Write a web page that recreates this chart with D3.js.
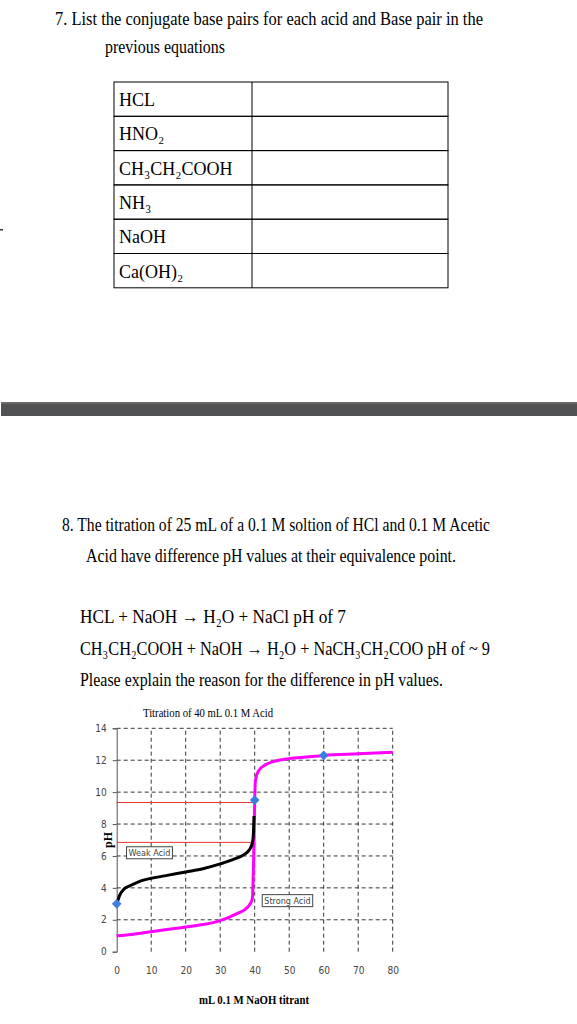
<!DOCTYPE html><html><head><meta charset="utf-8">
<script src="https://cdn.jsdelivr.net/npm/d3@7"></script>
<style>body{margin:0;background:#fff}svg{display:block}</style></head><body>
<script>
const tableRows=["HCL","HNO₂","CH₃CH₂COOH","NH₃","NaOH","Ca(OH)₂"];
const weakX=[0,1,2,4,6,8,10,15,20,25,30,34,37,38.5,39.3,39.6,39.8];
const weakY=[3,3.6,3.9,4.15,4.35,4.5,4.6,4.8,5.0,5.2,5.5,5.8,6.1,6.4,6.8,7.3,8.5];
const strongX=[0,5,10,15,20,25,30,35,38,39.3,39.6,39.8,40,40.2,41,43,46,50,55,60,70,80];
const strongY=[1,1.1,1.25,1.4,1.55,1.7,1.95,2.4,2.8,3.3,5,7,9.5,10.7,11.3,11.7,11.95,12.1,12.2,12.3,12.4,12.5];
const pointsX=[0,40,60], pointsY=[3,9.5,12.3];
const refLines=[9.35,6.85];
const xTicks=[0,10,20,30,40,50,60,70,80], yTicks=[0,2,4,6,8,10,12,14];

const svg=d3.select("body").append("svg").attr("width",577).attr("height",1024);
const serif="'Liberation Serif','Times New Roman',serif";
function txt(s,x,y,w,size){svg.append("text").attr("x",x).attr("y",y).attr("font-family",serif).attr("font-size",size)
 .attr("textLength",w).attr("lengthAdjust","spacingAndGlyphs").text(s);}
txt("7. List the conjugate base pairs for each acid and Base pair in the",55,25,428,19);
txt("previous equations",105,53,120,19);
const tx=114,tw=334,split=252,ty=82,rh=34.3;
tableRows.forEach((r,i)=>{
 svg.append("rect").attr("x",tx).attr("y",ty+i*rh).attr("width",tw).attr("height",rh).attr("fill","none").attr("stroke","#000");
 svg.append("text").attr("x",tx+5).attr("y",ty+i*rh+24).attr("font-family",serif).attr("font-size",18).text(r);
});
svg.append("line").attr("x1",split).attr("x2",split).attr("y1",ty).attr("y2",ty+6*rh).attr("stroke","#000");
svg.append("rect").attr("x",0).attr("y",229).attr("width",3).attr("height",1.5).attr("fill","#333");
svg.append("rect").attr("x",1).attr("y",402).attr("width",576).attr("height",14).attr("fill","#505254");
svg.append("rect").attr("x",1).attr("y",402).attr("width",576).attr("height",2).attr("fill","#6a6a6a");
txt("8. The titration of 25 mL of a 0.1 M soltion of HCl and 0.1 M Acetic",62,531,428,19);
txt("Acid have difference pH values at their equivalence point.",86,562,370,19);
txt("HCL + NaOH → H₂O + NaCl  pH of 7",80,623,266,19);
txt("CH₃CH₂COOH + NaOH → H₂O + NaCH₃CH₂COO  pH of ~ 9",80,655,410,19);
txt("Please explain the reason for the difference in pH values.",80,686,363,19);
const x=d3.scaleLinear().domain([0,80]).range([116.7,392.7]);
const y=d3.scaleLinear().domain([0,14]).range([951.7,728.3]);
const g=svg.append("g");
g.selectAll(".gx").data(xTicks.slice(1)).join("line").attr("x1",d=>x(d)).attr("x2",d=>x(d)).attr("y1",y(0)).attr("y2",y(14))
 .attr("stroke","#000").attr("stroke-width",0.8).attr("stroke-dasharray","4,3");
g.selectAll(".gy").data(yTicks.slice(1)).join("line").attr("x1",x(0)).attr("x2",x(80)).attr("y1",d=>y(d)).attr("y2",d=>y(d))
 .attr("stroke","#000").attr("stroke-width",0.8).attr("stroke-dasharray","4,3");
const ya=g.append("g").attr("transform",`translate(${x(0)},0)`).call(d3.axisLeft(y).tickValues(yTicks).tickSize(4).tickPadding(6));
const xa=g.append("g").attr("transform",`translate(0,${y(0)})`).call(d3.axisBottom(x).tickValues(xTicks).tickSize(0).tickPadding(15));
xa.select(".domain").remove();
[ya,xa].forEach(a=>{a.selectAll("text").attr("font-family","'DejaVu Sans Condensed','Liberation Sans Narrow',sans-serif").attr("font-size",10).attr("fill","#444");
 a.selectAll("line,path").attr("stroke","#555");});
g.selectAll(".rl").data(refLines).join("line").attr("x1",x(0)).attr("x2",x(40)).attr("y1",d=>y(d)).attr("y2",d=>y(d)).attr("stroke","#e33").attr("stroke-width",1);
const line=d3.line().curve(d3.curveMonotoneX);
g.append("path").attr("d",line(strongX.map((v,i)=>[x(v),y(strongY[i])]))).attr("fill","none").attr("stroke","#f0f").attr("stroke-width",3);
g.append("path").attr("d",line(weakX.map((v,i)=>[x(v),y(weakY[i])]))).attr("fill","none").attr("stroke","#000").attr("stroke-width",3);
g.selectAll(".pt").data(pointsX).join("path").attr("d",d3.symbol(d3.symbolDiamond2,60))
 .attr("transform",(d,i)=>`translate(${x(d)},${y(pointsY[i])})`).attr("fill","#3b7fe0");
function box(s,cx,cy){const r=g.append("rect");
 const t=g.append("text").attr("x",cx).attr("y",cy+3).attr("text-anchor","middle")
 .attr("font-family","'DejaVu Sans Condensed',sans-serif").attr("font-size",9).attr("fill","#444").text(s);
 const b=t.node().getBBox(); r.attr("x",b.x-2).attr("y",b.y-1).attr("width",b.width+4).attr("height",b.height+2).attr("fill","#fff").attr("stroke","#444");}
box("Weak Acid",x(9.5),y(6.2));
box("Strong Acid",x(49.5),y(3.2));
svg.append("text").attr("x",208).attr("y",717).attr("text-anchor","middle").attr("font-family",serif).attr("font-size",12)
 .attr("textLength",130).attr("lengthAdjust","spacingAndGlyphs").text("Titration of 40 mL 0.1 M Acid");
svg.append("text").attr("transform","translate(112,840) rotate(-90)").attr("text-anchor","middle").attr("font-family",serif)
 .attr("font-size",12).attr("font-weight","bold").text("pH");
svg.append("text").attr("x",254).attr("y",1004).attr("text-anchor","middle").attr("font-family",serif).attr("font-size",13)
 .attr("font-weight","bold").attr("textLength",110).attr("lengthAdjust","spacingAndGlyphs").text("mL 0.1 M NaOH titrant");
</script></body></html>
